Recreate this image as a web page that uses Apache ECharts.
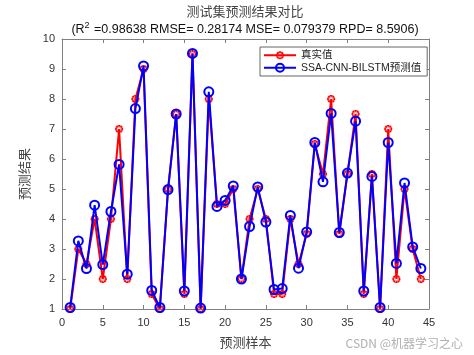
<!DOCTYPE html>
<html>
<head>
<meta charset="utf-8">
<script src="https://cdn.jsdelivr.net/npm/echarts@6/dist/echarts.min.js"></script>
<style>html,body{margin:0;padding:0;background:#fff;}#c{width:474px;height:355px;}</style>
</head>
<body>
<div id="c"></div>
<script>
var sampleIndex = [1,2,3,4,5,6,7,8,9,10,11,12,13,14,15,16,17,18,19,20,21,22,23,24,25,26,27,28,29,30,31,32,33,34,35,36,37,38,39,40,41,42,43,44];
var trueValues = [1,3,2.5,4,2,4,7,2,8,9,1.5,1,5,7.5,1.5,9.5,1,8,4.5,4.5,5,2,4,5,4,1.5,1.5,4,2.5,3.5,6.5,5.5,8,3.5,5.5,7.5,1.5,5.5,1,7,2,5,3,2];
var predValues = [1.05,3.27,2.35,4.46,2.48,4.25,5.82,2.16,7.68,9.1,1.62,1.05,4.98,7.5,1.6,9.52,1.03,8.24,4.42,4.62,5.1,2.0,3.75,5.07,3.9,1.65,1.68,4.12,2.36,3.57,6.55,5.24,7.52,3.55,5.53,7.26,1.6,5.42,1.05,6.55,2.52,5.2,3.07,2.35];
var seriesNames = ['真实值','SSA-CNN-BILSTM预测值'];
var xTicks = {min:0, max:45, interval:5};
var yTicks = {min:1, max:10, interval:1};

var pairs = function(vals){ return sampleIndex.map(function(x,i){ return [x, vals[i]]; }); };
var star = 'path://M-1.5,-5L1.5,-5L1.5,5L-1.5,5Z M-5,-1.5L5,-1.5L5,1.5L-5,1.5Z M-4.6,-2.5L2.5,4.6L4.6,2.5L-2.5,-4.6Z M-2.5,4.6L4.6,-2.5L2.5,-4.6L-4.6,2.5Z';
var axisCol = '#808080';
var latin = '"Liberation Sans", Arial, sans-serif';
var cjk = '"Liberation Sans", "Noto Sans CJK SC", sans-serif';

var chart = echarts.init(document.getElementById('c'), null, {renderer:'canvas'});
var baseX = {type:'value', min:xTicks.min, max:xTicks.max, interval:xTicks.interval, splitLine:{show:false},
  axisLine:{show:true, onZero:false, lineStyle:{color:axisCol, width:1}},
  axisTick:{show:true, inside:true, length:4, lineStyle:{color:axisCol}}};
var baseY = {type:'value', min:yTicks.min, max:yTicks.max, interval:yTicks.interval, splitLine:{show:false},
  axisLine:{show:true, onZero:false, lineStyle:{color:axisCol, width:1}},
  axisTick:{show:true, inside:true, length:4, lineStyle:{color:axisCol}}};

chart.setOption({
  animation:false,
  backgroundColor:'#fff',
  grid:{left:62, right:45, top:39, bottom:40, containLabel:false},
  xAxis:[
    Object.assign({}, baseX, {position:'bottom', name:'预测样本', nameLocation:'middle', nameGap:28,
      nameTextStyle:{fontFamily:cjk, fontSize:13, color:'#444'},
      axisLabel:{show:true, fontFamily:latin, fontSize:11, color:'#333', margin:8}}),
    Object.assign({}, baseX, {position:'top', axisLabel:{show:false}})
  ],
  yAxis:[
    Object.assign({}, baseY, {position:'left', name:'预测结果', nameLocation:'middle', nameGap:29,
      nameTextStyle:{fontFamily:cjk, fontSize:13, color:'#444'},
      axisLabel:{show:true, fontFamily:latin, fontSize:11, color:'#333', margin:7}}),
    Object.assign({}, baseY, {position:'right', axisLabel:{show:false}})
  ],
  legend:{
    orient:'vertical', left:260, top:47, width:159,
    backgroundColor:'#fff', borderColor:'#666', borderWidth:1,
    padding:[3,6,3,3], itemGap:2, itemWidth:32, itemHeight:10,
    textStyle:{fontFamily:cjk, fontSize:10.5, color:'#222'},
    data:seriesNames
  },
  graphic:[
    {type:'text', x:245, y:11, style:{text:'测试集预测结果对比', font:'13px "Noto Sans CJK SC", sans-serif', fill:'#444', textAlign:'center', textVerticalAlign:'middle'}},
    {type:'text', x:245, y:30, style:{text:'{m|(R}{s|2}{m| =0.98638 RMSE= 0.28174 MSE= 0.079379 RPD= 8.5906)}', textAlign:'center', textVerticalAlign:'middle',
      fill:'#111',
      rich:{m:{fontSize:12.5, fontFamily:'Liberation Sans', fill:'#111'},
            s:{fontSize:9, fontFamily:'Liberation Sans', fill:'#111', padding:[0,1,8,0]}}}},
    {type:'text', x:463, y:343, style:{text:'CSDN @机器学习之心', font:'12px "Noto Sans CJK SC", sans-serif', fill:'#b0b0b0', textAlign:'right', textVerticalAlign:'middle'}}
  ],
  series:[
    {name:seriesNames[0], type:'line', data:pairs(trueValues), symbol:star, symbolSize:8,
      itemStyle:{color:'#ff0000'}, lineStyle:{color:'#ff0000', width:2}, z:2},
    {name:seriesNames[1], type:'line', data:pairs(predValues), symbol:'circle', symbolSize:9,
      itemStyle:{color:'rgba(0,0,0,0)', borderColor:'#0000ff', borderWidth:2}, lineStyle:{color:'#0000ff', width:2}, z:3}
  ]
});
</script>
</body>
</html>
